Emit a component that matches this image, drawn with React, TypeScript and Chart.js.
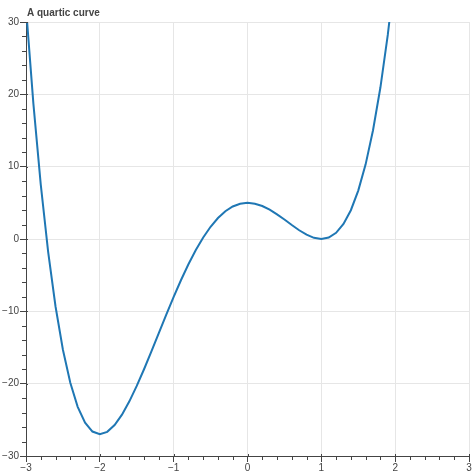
import { useEffect, useRef } from "react"
import { Chart, registerables } from "chart.js"

Chart.register(...registerables)

// x sampled every 0.1 from -3 to 2.2 (curve leaves the plot above y = 30)
const xValues = [
  -3.0, -2.9, -2.8, -2.7, -2.6, -2.5, -2.4, -2.3, -2.2, -2.1,
  -2.0, -1.9, -1.8, -1.7, -1.6, -1.5, -1.4, -1.3, -1.2, -1.1,
  -1.0, -0.9, -0.8, -0.7, -0.6, -0.5, -0.4, -0.3, -0.2, -0.1,
  0.0, 0.1, 0.2, 0.3, 0.4, 0.5, 0.6, 0.7, 0.8, 0.9,
  1.0, 1.1, 1.2, 1.3, 1.4, 1.5, 1.6, 1.7, 1.8, 1.9,
  2.0, 2.1, 2.2,
]

const yValues = [
  32.0, 18.71, 7.51, -1.78, -9.33, -15.31, -19.88, -23.2, -25.4, -26.62,
  -27.0, -26.66, -25.72, -24.28, -22.44, -20.31, -17.97, -15.5, -12.97, -10.45,
  -8.0, -5.67, -3.5, -1.53, 0.2, 1.69, 2.9, 3.84, 4.49, 4.88,
  5.0, 4.88, 4.56, 4.05, 3.41, 2.69, 1.93, 1.21, 0.6, 0.16,
  0.0, 0.2, 0.85, 2.08, 3.98, 6.69, 10.32, 15.03, 20.94, 28.21,
  37.0, 47.47, 59.79,
]

const xTicks = [-3, -2, -1, 0, 1, 2, 3]
const yTicks = [-30, -20, -10, 0, 10, 20, 30]

const titleText = "A quartic curve"
const fontFamily = "'Liberation Sans', Helvetica, Arial, sans-serif"
const axisColor = "#444444"
const gridColor = "#e6e6e6"

const fmt = (v: number) => (v < 0 ? "\u2212" + Math.abs(v) : String(v))

// title + minor ticks, Bokeh style
const decorations = {
  id: "decorations",
  afterDraw(chart: any) {
    const { ctx, chartArea, scales } = chart
    const xs = scales.x
    const ys = scales.y
    ctx.save()
    ctx.strokeStyle = axisColor
    ctx.lineWidth = 1
    ctx.beginPath()
    // minor ticks on x: 5 per major
    for (let i = 0; i <= (xTicks.length - 1) * 5; i++) {
      const v = xTicks[0] + i * 0.2
      const px = Math.round(xs.getPixelForValue(v)) + 0.5
      if (i % 5 === 0) {
        ctx.moveTo(px, chartArea.bottom - 2)
        ctx.lineTo(px, chartArea.bottom)
      } else {
        ctx.moveTo(px, chartArea.bottom)
        ctx.lineTo(px, chartArea.bottom + 4)
      }
    }
    for (let i = 0; i <= (yTicks.length - 1) * 5; i++) {
      const v = yTicks[0] + i * 2
      const py = Math.round(ys.getPixelForValue(v)) + 0.5
      if (i % 5 === 0) {
        ctx.moveTo(chartArea.left, py)
        ctx.lineTo(chartArea.left + 2, py)
      } else {
        ctx.moveTo(chartArea.left - 4, py)
        ctx.lineTo(chartArea.left, py)
      }
    }
    ctx.stroke()

    ctx.fillStyle = axisColor
    ctx.font = `bold 10px ${fontFamily}`
    ctx.textAlign = "left"
    ctx.textBaseline = "alphabetic"
    ctx.fillText(titleText, chartArea.left + 1, 16)
    ctx.restore()
  },
}

export default function App() {
  const chartRef = useRef<HTMLCanvasElement>(null)
  const chartInstance = useRef<Chart | null>(null)

  useEffect(() => {
    if (!chartRef.current) return
    if (chartInstance.current) chartInstance.current.destroy()

    chartInstance.current = new Chart(chartRef.current, {
      type: "line",
      data: {
        datasets: [
          {
            data: xValues.map((x, i) => ({ x, y: yValues[i] })),
            borderColor: "#1f77b4",
            borderWidth: 2,
            pointRadius: 0,
            tension: 0,
            fill: false,
          },
        ],
      },
      options: {
        animation: false,
        responsive: false,
        devicePixelRatio: 1,
        layout: { padding: { top: 22, right: 5, left: 0, bottom: 0 } },
        plugins: { legend: { display: false }, tooltip: { enabled: false }, title: { display: false } },
        scales: {
          x: {
            type: "linear",
            min: -3,
            max: 3,
            afterFit: (scale: any) => {
              scale.height = 18
            },
            afterBuildTicks: (scale: any) => {
              scale.ticks = xTicks.map((value) => ({ value }))
            },
            ticks: {
              callback: (v: any) => fmt(Number(v)),
              color: axisColor,
              font: { family: fontFamily, size: 10 },
              padding: 0,
              maxRotation: 0,
              autoSkip: false,
            },
            grid: { color: gridColor, tickColor: axisColor, tickLength: 6, lineWidth: 1 },
            border: { color: axisColor, width: 1 },
          },
          y: {
            type: "linear",
            min: -30,
            max: 30,
            afterFit: (scale: any) => {
              scale.width = 26
            },
            afterBuildTicks: (scale: any) => {
              scale.ticks = yTicks.map((value) => ({ value }))
            },
            ticks: {
              callback: (v: any) => fmt(Number(v)),
              color: axisColor,
              font: { family: fontFamily, size: 10 },
              padding: 1,
              autoSkip: false,
            },
            grid: { color: gridColor, tickColor: axisColor, tickLength: 6, lineWidth: 1 },
            border: { color: axisColor, width: 1 },
          },
        },
      },
      plugins: [decorations],
    })

    return () => {
      if (chartInstance.current) {
        chartInstance.current.destroy()
        chartInstance.current = null
      }
    }
  }, [])

  return (
    <div style={{ position: "fixed", left: 0, top: 0, width: 474, height: 474, background: "#ffffff" }}>
      <canvas ref={chartRef} width={474} height={474} />
    </div>
  )
}
